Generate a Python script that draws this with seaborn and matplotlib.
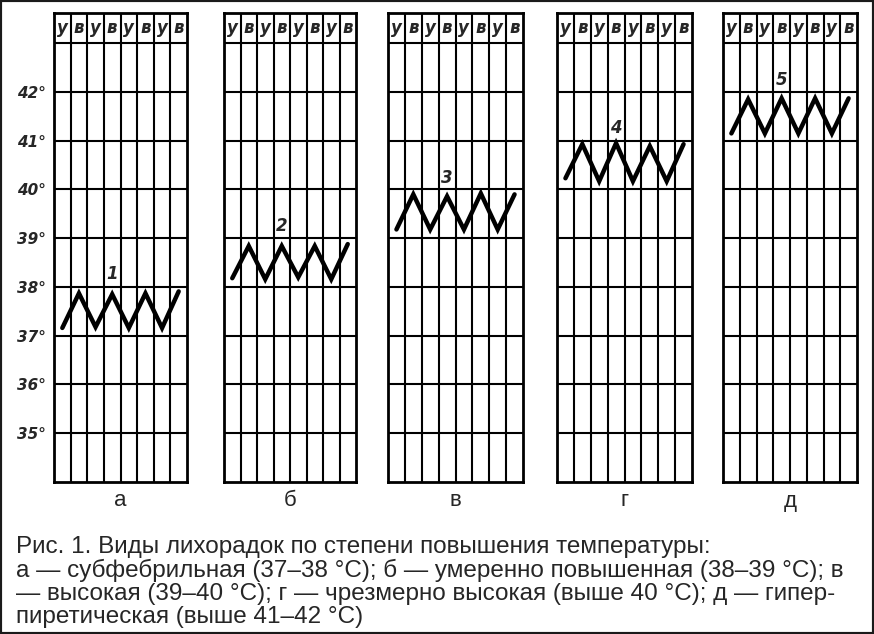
import numpy as np
import pandas as pd
import matplotlib.pyplot as plt
import seaborn as sns
from matplotlib.patches import Rectangle

# данные: 8 измерений (утро/вечер) на каждый вид лихорадки
columns = ['у', 'в', 'у', 'в', 'у', 'в', 'у', 'в']
panel_letters = ['а', 'б', 'в', 'г', 'д']
curve_numbers = ['1', '2', '3', '4', '5']
temp_a = [37.16, 37.87, 37.18, 37.85, 37.16, 37.87, 37.16, 37.91]
temp_b = [38.18, 38.84, 38.16, 38.84, 38.20, 38.84, 38.16, 38.88]
temp_v = [39.18, 39.90, 39.18, 39.86, 39.18, 39.92, 39.18, 39.90]
temp_g = [40.23, 40.93, 40.17, 40.95, 40.17, 40.89, 40.17, 40.93]
temp_d = [41.15, 41.85, 41.15, 41.87, 41.15, 41.87, 41.15, 41.87]
number_y = [38.26, 39.25, 40.23, 41.27, 42.24]
ytick_values = [35, 36, 37, 38, 39, 40, 41, 42]
ytick_labels = ['35°', '36°', '37°', '38°', '39°', '40°', '41°', '42°']

caption = [
    'Рис. 1. Виды лихорадок по степени повышения температуры:',
    'а — субфебрильная (37–38 °С); б — умеренно повышенная (38–39 °С); в',
    '— высокая (39–40 °С); г — чрезмерно высокая (выше 40 °С); д — гипер-',
    'пиретическая (выше 41–42 °С)',
]

sns.set_style('white')
plt.rcParams['font.family'] = ['DejaVu Sans']

W, H = 874, 634
fig = plt.figure(figsize=(W / 100, H / 100), dpi=100)
fig.patch.set_facecolor('white')

lefts = [54, 224, 388, 557, 723]
rights = [187, 356, 523, 692, 857]
top_px, bottom_px = 13, 482
ymin, ymax = 34, 43.62

all_temps = [temp_a, temp_b, temp_v, temp_g, temp_d]
for i, temps in enumerate(all_temps):
    ax = fig.add_axes([lefts[i] / W, 1 - bottom_px / H,
                       (rights[i] - lefts[i]) / W, (bottom_px - top_px) / H])
    df = pd.DataFrame({'x': np.arange(8) + 0.5, 't': temps})
    sns.lineplot(data=df, x='x', y='t', ax=ax, color='black', lw=3.2,
                 solid_joinstyle='miter', zorder=5)
    ax.set_xlim(0, 8)
    ax.set_ylim(ymin, ymax)
    for k in range(1, 8):
        ax.axvline(k, color='black', lw=1.5, zorder=2)
    for v in range(35, 44):
        ax.axhline(v, color='black', lw=1.5, zorder=2)
    for k, c in enumerate(columns):
        ax.text(k + 0.5, 43.31, c, ha='center', va='center', fontsize=12,
                fontweight='bold', style='italic')
    ax.text(3.5, number_y[i], curve_numbers[i], ha='center', va='center',
            fontsize=12, fontweight='bold', style='italic')
    for s in ax.spines.values():
        s.set_color('black')
        s.set_linewidth(2)
    ax.set_xlabel('')
    ax.set_ylabel('')
    ax.set_xticks([])
    if i == 0:
        ax.set_yticks(ytick_values)
        ax.set_yticklabels(ytick_labels, fontsize=11, fontweight='bold',
                           style='italic')
        ax.tick_params(axis='y', length=0, pad=6)
    else:
        ax.set_yticks([])
    fig.text((lefts[i] + rights[i]) / 2 / W, 1 - 501 / H, panel_letters[i],
             ha='center', va='center', fontsize=16,
             family=['Liberation Sans', 'DejaVu Sans'])

for j, line in enumerate(caption):
    fig.text(16 / W, 1 - (553 + j * 23.5) / H, line, ha='left', va='baseline',
             fontsize=17.5, family=['Liberation Sans', 'DejaVu Sans'])

fig.patches.append(Rectangle((0, 0), 1, 1, transform=fig.transFigure,
                             fill=False, edgecolor='#1a1a1a', lw=3))

fig.savefig('out.png', dpi=100)
